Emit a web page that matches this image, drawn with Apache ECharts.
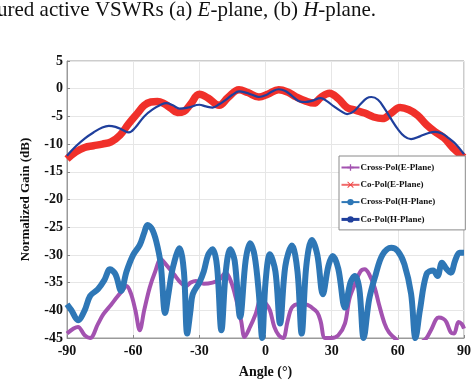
<!DOCTYPE html>
<html>
<head>
<meta charset="utf-8">
<script src="https://cdn.jsdelivr.net/npm/echarts@6/dist/echarts.min.js"></script>
<style>html,body{margin:0;padding:0;background:#fff}#c{width:474px;height:384px}</style>
</head>
<body>
<div id="c"></div>
<script>
// ---- data ----
const xTicks = [-90, -60, -30, 0, 30, 60, 90];
const yTicks = [5, 0, -5, -10, -15, -20, -25, -30, -35, -40, -45];
const seriesNames = ['Cross-Pol(E-Plane)', 'Co-Pol(E-Plane)', 'Cross-Pol(H-Plane)', 'Co-Pol(H-Plane)'];

const crossE_angle = [-90,-87,-85,-82,-79.5,-76,-73.5,-70,-67.5,-65,-63,-61,-59,-57,-55,-52.5,-50,-47.5,-45,-41.5,-38.5,-36,-34,-31.5,-28,-24,-21,-18,-15.5,-13.5,-11,-9.5,-7,-4.5,-2,0,2,4,6,8,10,12,15,18,21,23.5,25,27,30,33,36,38,40.5,43,45,47,49.5,51.5,54,56,58.5,61,64,67,70,73,75,78.5,80.5,82,84,85.5,87.5,89,90];
const crossE_gain  = [-44.2,-43.3,-43.0,-44.5,-45,-42.5,-40.7,-39,-37.7,-36.5,-35.6,-37,-40,-43.6,-40,-35.9,-33,-30.8,-31.8,-33.5,-35,-35.6,-35,-34.7,-35.2,-35,-34.5,-33.2,-35,-37.7,-42,-44.8,-43,-40.7,-38,-38.7,-40,-43,-44.5,-45,-42,-39.5,-38.9,-38.9,-39.5,-40.4,-42,-45,-45,-44.5,-42.4,-38,-35.3,-33,-32.6,-33.5,-35.9,-39,-42.4,-44,-45,-46,-47,-47,-46,-45,-43.6,-41.3,-41.5,-42.1,-44,-44.2,-42.1,-42.5,-43.3];

const coE_angle = [-90,-86,-82,-78,-74,-70,-66,-62,-58,-55,-52,-49,-46,-43,-40,-37,-34,-30,-26,-21,-17,-12,-8,-3,1,6,10,14,18,22,25,29,33,37,41,45,49,53,57,61,65,69,73,77,81,85,90];
const coE_gain  = [-12.7,-11.4,-10.6,-10.3,-10.0,-9.6,-8.4,-6.3,-4.4,-3.0,-2.4,-2.3,-2.7,-3.5,-4.3,-4.1,-2.8,-1.0,-1.7,-3.0,-1.6,-0.2,-0.7,-1.5,-1.0,-0.2,-0.6,-1.5,-2.2,-2.6,-1.6,-0.8,-1.8,-3.4,-3.9,-4.4,-5.1,-5.4,-4.4,-3.4,-3.8,-4.8,-6.5,-7.8,-8.9,-10.7,-12.4];

const crossH_angle = [-90,-88,-85,-82,-79.5,-76,-73,-70.5,-68,-65.5,-63,-60,-57,-55,-53.5,-51.5,-49.5,-47.5,-45.5,-44,-42,-39,-37,-35.5,-34,-33,-30,-28,-26,-24,-22,-20,-18,-16,-14,-11.5,-9,-7,-5,-3,-1.5,0,2,4.5,6.6,9,12,14.5,16.4,18.5,21,23.5,26,28.5,30.5,33,36,38.5,40.5,42.5,44.5,47,50,53,57,60,63,66,68,70,73,76,78,80,82,84,86,88,90];
const crossH_gain  = [-38.9,-40.0,-41.8,-40.0,-37.4,-36.2,-34.5,-32.6,-33.5,-36.5,-33.0,-30.0,-28.2,-26.0,-24.6,-25.3,-27.6,-31.7,-40.5,-37,-32.3,-28.8,-33,-44.2,-40,-37.1,-35,-33,-30,-29,-32,-43.6,-33,-29,-31,-41.2,-31,-27.9,-30,-37,-45,-35,-29.9,-33,-42.4,-32,-28.3,-33,-44.2,-32,-27.3,-30,-37.1,-32,-30.2,-32.5,-39.5,-35,-33.8,-36,-45,-38,-33.5,-30,-28.7,-29.3,-31.7,-37,-45,-40,-33.5,-32.8,-33.8,-31.4,-32.5,-33.2,-31,-29.6,-29.6];

const coH_angle = [-90,-86,-82,-78,-74,-71,-68,-65,-62,-59,-55,-51,-47,-45,-42,-39,-35,-30,-27,-24,-21,-18,-15,-12,-9,-6,-3,0,3,6,9,12,15,18,21,25,28,31,34,37,40,43,46,48,51,54,57,60,63,66,70,74,77,80,83,86,90];
const coH_gain  = [-12.1,-10.4,-9.0,-7.9,-7.0,-6.7,-6.9,-7.4,-7.9,-7.0,-5.0,-3.7,-2.8,-2.6,-3.0,-3.6,-3.4,-2.9,-3.2,-3.4,-2.8,-2.0,-1.1,-0.5,-0.7,-1.1,-1.5,-1.2,-0.5,-0.1,-0.4,-1.3,-2.2,-2.4,-2.2,-1.7,-2.3,-3.2,-4.0,-4.6,-4.1,-2.8,-1.7,-1.5,-2.0,-3.6,-5.5,-7.3,-8.6,-9.1,-8.6,-8.0,-7.8,-8.1,-8.9,-9.9,-11.8];

const pairs = (xs, ys) => xs.map((x, i) => [x, ys[i]]);

const serif = '"Liberation Serif", "DejaVu Serif", serif';
const plusPath = 'path://M4,0H6V4H10V6H6V10H4V6H0V4H4Z';
const xPath = 'path://M1,0L5,4L9,0L10,1L6,5L10,9L9,10L5,6L1,10L0,9L4,5L0,1Z';
const colors = ['#a352b0', '#f0302a', '#2e77b6', '#1f3f9c'];

const chart = echarts.init(document.getElementById('c'), null, {renderer: 'canvas'});
chart.setOption({
  backgroundColor: '#fff',
  animation: false,
  grid: {left: 67, right: 7, top: 61, bottom: 43, show: true, borderColor: '#9a9a9a', borderWidth: 1},
  graphic: [{
    type: 'text', left: -3, top: 0,
    style: {
      text: 'ured active VSWRs (a) {i|E}-plane, (b) {i|H}-plane.',
      font: '21px ' + serif, fill: '#111',
      rich: {i: {fontStyle: 'italic', fontSize: 21, fontFamily: serif, fill: '#111'}}
    }
  }],
  legend: {
    data: [
      {name: seriesNames[0], lineStyle: {width: 2, color: colors[0]}, itemStyle: {color: colors[0]}},
      {name: seriesNames[1], lineStyle: {width: 2, color: '#f06a6a'}, itemStyle: {color: '#f04040'}},
      {name: seriesNames[2], lineStyle: {width: 2, color: colors[2]}, itemStyle: {color: colors[2]}},
      {name: seriesNames[3], lineStyle: {width: 3, color: colors[3]}, itemStyle: {color: colors[3]}}
    ],
    orient: 'vertical',
    left: 339, top: 156,
    padding: [7, 30, 6, 1],
    itemWidth: 18, itemHeight: 8, itemGap: 8.3,
    backgroundColor: '#fff',
    borderColor: '#8a8a8a', borderWidth: 1, borderRadius: 0,
    textStyle: {fontFamily: serif, fontWeight: 'bold', fontSize: 9, color: '#111', padding: [0,0,0,-4]}
  },
  xAxis: {
    type: 'value', min: -90, max: 90, interval: 30,
    name: 'Angle (°)', nameLocation: 'middle', nameGap: 27,
    nameTextStyle: {fontFamily: serif, fontWeight: 'bold', fontSize: 14, color: '#111'},
    axisLine: {show: true, onZero: false, lineStyle: {color: '#9a9a9a'}},
    axisTick: {show: true, inside: true, length: 3, lineStyle: {color: '#888'}},
    axisLabel: {fontFamily: serif, fontWeight: 'bold', fontSize: 14, color: '#111', margin: 6,
      formatter: v => xTicks.includes(v) ? String(v) : ''},
    splitLine: {show: true, lineStyle: {color: '#e6e6e6', width: 1}}
  },
  yAxis: {
    type: 'value', min: -45, max: 5, interval: 5,
    name: 'Normalized Gain (dB)', nameLocation: 'middle', nameGap: 35,
    nameTextStyle: {fontFamily: serif, fontWeight: 'bold', fontSize: 13, color: '#111'},
    axisLine: {show: true, onZero: false, lineStyle: {color: '#9a9a9a'}},
    axisTick: {show: true, inside: true, length: 3, lineStyle: {color: '#888'}},
    axisLabel: {fontFamily: serif, fontWeight: 'bold', fontSize: 14, color: '#111', margin: 4,
      formatter: v => yTicks.includes(v) ? String(v) : ''},
    splitLine: {show: true, lineStyle: {color: '#e6e6e6', width: 1}}
  },
  series: [
    {name: seriesNames[0], type: 'line', data: pairs(crossE_angle, crossE_gain), smooth: 0.35,
     showSymbol: false, symbol: plusPath, symbolSize: 7, clip: true,
     lineStyle: {color: colors[0], width: 4}, itemStyle: {color: colors[0]}, z: 2},
    {name: seriesNames[1], type: 'line', data: pairs(coE_angle, coE_gain), smooth: 0.4,
     showSymbol: false, symbol: xPath, symbolSize: 6, clip: true,
     lineStyle: {color: colors[1], width: 7.5}, itemStyle: {color: '#f04040'}, z: 2},
    {name: seriesNames[2], type: 'line', data: pairs(crossH_angle, crossH_gain), smooth: 0.35,
     showSymbol: false, symbol: 'circle', symbolSize: 6, clip: true,
     lineStyle: {color: colors[2], width: 6}, itemStyle: {color: colors[2]}, z: 3},
    {name: seriesNames[3], type: 'line', data: pairs(coH_angle, coH_gain), smooth: 0.4,
     showSymbol: false, symbol: 'none', clip: true,
     lineStyle: {color: colors[3], width: 2.2}, itemStyle: {color: colors[3]}, z: 4}
  ]
});
</script>
</body>
</html>
